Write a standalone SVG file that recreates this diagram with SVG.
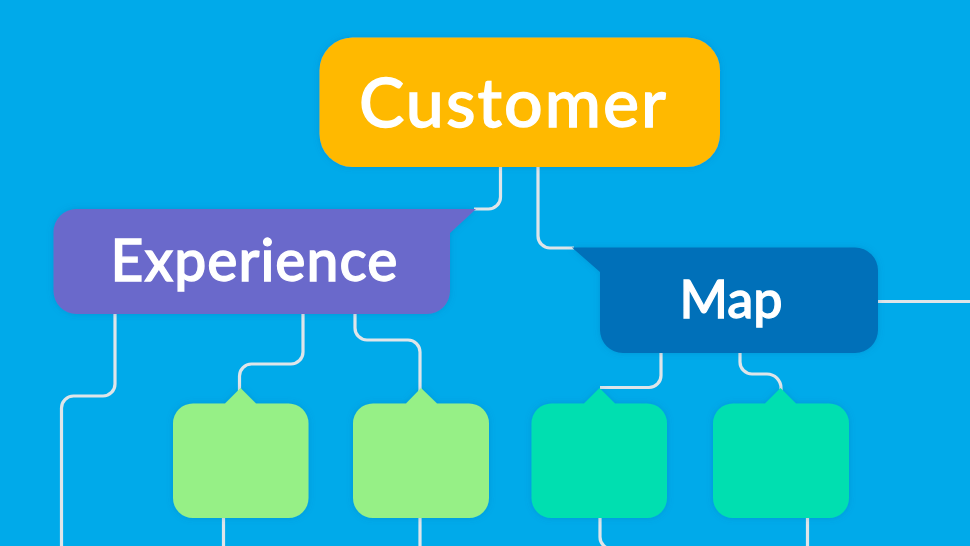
<svg xmlns="http://www.w3.org/2000/svg" width="970" height="546" viewBox="0 0 970 546">
<defs>
<style>
.c{fill:none;stroke:#dfe5e9;stroke-width:3.2}
.n{filter:url(#s)}
text{font-family:"Lato","Noto Sans",sans-serif;fill:#fff;stroke:#fff;stroke-width:1.3;font-weight:500;text-anchor:middle}
</style>
<filter id="s" x="-10%" y="-10%" width="120%" height="120%"><feDropShadow dx="0" dy="0" stdDeviation="3" flood-color="#005a9c" flood-opacity=".25"/></filter>
</defs>
<rect id="background" width="970" height="546" fill="#00aaea"/>
<g id="connectors">
<path class="c" d="M500.500 167V197a12 12 0 0 1-12 12H474"/>
<path class="c" d="M538 167V236a12 12 0 0 0 12 12H574"/>
<path class="c" d="M115 314V384a12 12 0 0 1-12 12H73.500a12 12 0 0 0-12 12V546"/>
<path class="c" d="M303 314V352a12 12 0 0 1-12 12H251.500a12 12 0 0 0-12 12V392"/>
<path class="c" d="M355 314V328a12 12 0 0 0 12 12H408a12 12 0 0 1 12 12V392"/>
<path class="c" d="M878 301.500H970"/>
<path class="c" d="M661 353V375.500a12 12 0 0 1-12 12H600"/>
<path class="c" d="M740 353V362a12 12 0 0 0 12 12H767a14 14 0 0 1 14 14V392"/>
<path class="c" d="M223.500 518V546"/>
<path class="c" d="M420 518V546"/>
<path class="c" d="M600 518V537a12 12 0 0 0 12 12H625"/>
<path class="c" d="M807.500 518V546"/>
</g>
<g id="customer" class="n">
<rect x="319.500" y="37.500" width="400.500" height="129.500" rx="33" fill="#ffb900"/>
<text x="512.500" y="127" font-size="68" textLength="307">Customer</text>
</g>
<g id="experience" class="n">
<path d="M76.500 209H476L450 233V291a23 23 0 0 1-23 23H76.500a23 23 0 0 1-23-23V232a23 23 0 0 1 23-23Z" fill="#6b69cb"/>
<text x="254" y="281" font-size="57" textLength="287">Experience</text>
</g>
<g id="map" class="n">
<path d="M572 247.500H855a23 23 0 0 1 23 23V330a23 23 0 0 1-23 23H623a23 23 0 0 1-23-23V272Z" fill="#0070b9"/>
<text x="731" y="318" font-size="52" textLength="103">Map</text>
</g>
<g id="green1" class="n">
<path d="M225 403.500L240.500 388L256 403.500H288.500a20 20 0 0 1 20 20V498a20 20 0 0 1-20 20H193a20 20 0 0 1-20-20V423.500a20 20 0 0 1 20-20Z" fill="#96f086"/>
</g>
<g id="green2" class="n">
<path d="M406 403.500L421 388L437 403.500H469a20 20 0 0 1 20 20V498a20 20 0 0 1-20 20H373a20 20 0 0 1-20-20V423.500a20 20 0 0 1 20-20Z" fill="#96f086"/>
</g>
<g id="teal1" class="n">
<path d="M584 403.500L599.500 388L615 403.500H647a20 20 0 0 1 20 20V498a20 20 0 0 1-20 20H551.500a20 20 0 0 1-20-20V423.500a20 20 0 0 1 20-20Z" fill="#00dfb0"/>
</g>
<g id="teal2" class="n">
<path d="M765 403.500L780.500 388L796 403.500H829a20 20 0 0 1 20 20V498a20 20 0 0 1-20 20H733a20 20 0 0 1-20-20V423.500a20 20 0 0 1 20-20Z" fill="#00dfb0"/>
</g>
</svg>
